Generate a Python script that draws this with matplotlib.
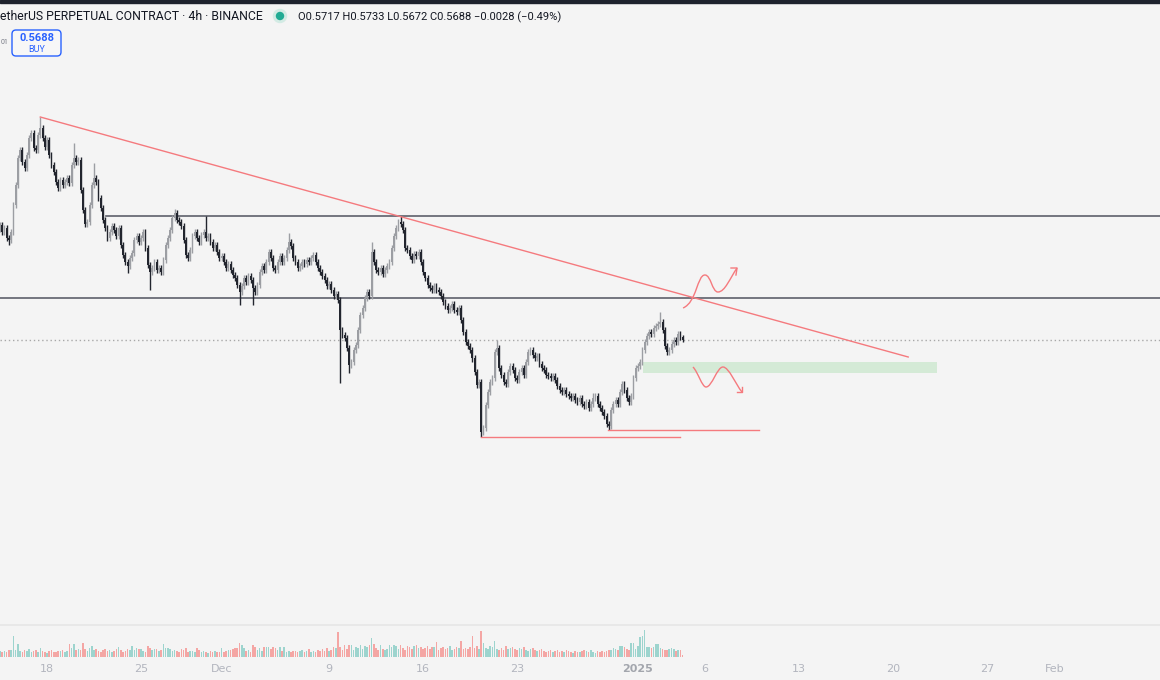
import matplotlib
matplotlib.use('Agg')
import matplotlib.pyplot as plt
import matplotlib.dates as mdates
from matplotlib.path import Path
from matplotlib.patches import PathPatch, FancyBboxPatch, Circle, Rectangle
from matplotlib.lines import Line2D
from datetime import datetime, timedelta

# ---- data: 4h candles, Nov 14 12:00 -> Jan 4 08:00 ----
start = datetime(2024, 11, 14, 12)
first_open = 0.680
closes = [
    0.684, 0.677, 0.681, 0.671, 0.669, 0.677, 0.704, 0.724, 0.751, 0.759,
    0.747, 0.741, 0.754, 0.771, 0.776, 0.761, 0.759, 0.774, 0.781, 0.771,
    0.762, 0.769, 0.754, 0.744, 0.737, 0.727, 0.721, 0.729, 0.724, 0.727,
    0.731, 0.726, 0.744, 0.751, 0.747, 0.749, 0.719, 0.699, 0.685, 0.687,
    0.704, 0.724, 0.731, 0.727, 0.711, 0.701, 0.689, 0.681, 0.671, 0.677,
    0.683, 0.679, 0.673, 0.681, 0.664, 0.654, 0.647, 0.643, 0.651, 0.656,
    0.669, 0.673, 0.667, 0.671, 0.677, 0.661, 0.644, 0.637, 0.641, 0.647,
    0.639, 0.641, 0.637, 0.649, 0.664, 0.671, 0.679, 0.691, 0.696, 0.689,
    0.687, 0.683, 0.669, 0.654, 0.651, 0.659, 0.673, 0.677, 0.671, 0.667,
    0.674, 0.677, 0.671, 0.673, 0.667, 0.661, 0.664, 0.657, 0.651, 0.653,
    0.647, 0.641, 0.645, 0.639, 0.634, 0.631, 0.624, 0.617, 0.623, 0.631,
    0.627, 0.633, 0.629, 0.621, 0.617, 0.624, 0.637, 0.643, 0.639, 0.647,
    0.657, 0.651, 0.641, 0.639, 0.647, 0.653, 0.647, 0.651, 0.659, 0.667,
    0.663, 0.651, 0.647, 0.641, 0.643, 0.647, 0.645, 0.649, 0.647, 0.651,
    0.654, 0.647, 0.641, 0.637, 0.633, 0.629, 0.623, 0.625, 0.619, 0.613,
    0.615, 0.609, 0.579, 0.574, 0.571, 0.561, 0.544, 0.547, 0.559, 0.564,
    0.579, 0.594, 0.601, 0.611, 0.617, 0.613, 0.657, 0.647, 0.639, 0.637,
    0.641, 0.635, 0.639, 0.643, 0.647, 0.661, 0.673, 0.681, 0.687, 0.685,
    0.679, 0.661, 0.659, 0.653, 0.649, 0.655, 0.653, 0.657, 0.647, 0.637,
    0.631, 0.624, 0.621, 0.619, 0.623, 0.619, 0.617, 0.613, 0.607, 0.603,
    0.599, 0.601, 0.605, 0.599, 0.597, 0.601, 0.589, 0.577, 0.567, 0.563,
    0.559, 0.551, 0.537, 0.524, 0.527, 0.477, 0.481, 0.504, 0.517, 0.527,
    0.531, 0.557, 0.561, 0.541, 0.534, 0.527, 0.525, 0.537, 0.543, 0.539,
    0.531, 0.529, 0.537, 0.541, 0.534, 0.547, 0.557, 0.559, 0.554, 0.551,
    0.553, 0.545, 0.541, 0.539, 0.534, 0.533, 0.531, 0.533, 0.529, 0.523,
    0.519, 0.517, 0.519, 0.515, 0.513, 0.511, 0.513, 0.509, 0.507, 0.511,
    0.505, 0.503, 0.507, 0.501, 0.505, 0.511, 0.513, 0.505, 0.501, 0.497,
    0.493, 0.485, 0.483, 0.499, 0.505, 0.509, 0.505, 0.517, 0.525, 0.519,
    0.511, 0.507, 0.513, 0.531, 0.541, 0.543, 0.547, 0.559, 0.567, 0.573,
    0.577, 0.575, 0.581, 0.583, 0.585, 0.587, 0.579, 0.563, 0.557, 0.559,
    0.565, 0.569, 0.567, 0.575, 0.5717, 0.5688,
]
# long wicks that stand out (candle index -> price)
wick_highs = {18: 0.792, 33: 0.766, 42: 0.746, 78: 0.700, 92: 0.693, 129: 0.676,
              166: 0.667, 179: 0.6928, 190: 0.633, 222: 0.569, 265: 0.516,
              295: 0.597, 305: 0.5733}
wick_lows = {4: 0.664, 57: 0.636, 67: 0.619, 107: 0.604, 113: 0.604, 152: 0.526,
             156: 0.536, 211: 0.547, 215: 0.4718, 272: 0.4788, 305: 0.5672}
volumes = [
    6, 5, 6, 5, 7, 7, 21, 7, 13, 6,
    5, 7, 6, 8, 5, 6, 7, 5, 9, 6,
    5, 4, 6, 7, 5, 5, 6, 6, 7, 5,
    6, 13, 9, 13, 7, 8, 7, 14, 8, 6,
    9, 11, 7, 8, 6, 5, 7, 8, 6, 7,
    5, 6, 8, 10, 7, 5, 6, 8, 7, 11,
    7, 9, 8, 8, 6, 5, 11, 9, 7, 8,
    8, 6, 7, 13, 9, 9, 8, 6, 7, 6,
    5, 8, 7, 9, 5, 6, 6, 5, 9, 7,
    5, 6, 5, 4, 6, 5, 6, 5, 5, 9,
    5, 6, 7, 7, 8, 9, 9, 14, 12, 9,
    6, 7, 5, 12, 10, 7, 9, 6, 10, 10,
    10, 8, 10, 9, 7, 10, 6, 10, 5, 6,
    5, 6, 6, 5, 6, 7, 5, 6, 8, 5,
    6, 5, 7, 6, 8, 6, 9, 6, 7, 10,
    9, 25, 10, 7, 12, 8, 12, 12, 7, 10,
    9, 12, 8, 11, 10, 12, 19, 13, 9, 7,
    12, 8, 7, 8, 12, 10, 12, 11, 8, 12,
    9, 7, 11, 10, 8, 11, 12, 9, 10, 8,
    9, 11, 8, 10, 10, 15, 7, 9, 10, 8,
    9, 11, 7, 8, 10, 9, 16, 8, 9, 8,
    10, 21, 9, 11, 8, 26, 14, 9, 8, 11,
    10, 16, 8, 7, 9, 7, 11, 8, 9, 10,
    8, 7, 9, 8, 10, 7, 6, 8, 9, 7,
    6, 7, 8, 6, 5, 6, 7, 5, 6, 7,
    5, 6, 5, 7, 6, 5, 4, 6, 5, 5,
    6, 7, 6, 5, 7, 5, 4, 6, 5, 6,
    5, 6, 7, 7, 9, 8, 7, 11, 11, 10,
    8, 7, 14, 14, 8, 11, 20, 21, 27, 10,
    10, 9, 10, 13, 13, 9, 8, 7, 7, 8,
    9, 8, 6, 7, 7, 2,
]

# ---- drawings on the chart ----
trend_dates = [datetime(2024, 11, 17, 12), datetime(2025, 1, 21, 3)]
trend_prices = [0.7918, 0.5518]
level_prices = [0.6928, 0.6108]
level_starts = [datetime(2024, 11, 22, 9), datetime(2024, 11, 14, 0)]
low_lines = [(datetime(2024, 12, 20, 8), datetime(2025, 1, 4, 3), 0.4718),
             (datetime(2024, 12, 29, 18), datetime(2025, 1, 10, 0), 0.4788)]
zone = (datetime(2025, 1, 1, 9), datetime(2025, 1, 23, 6), 0.5358, 0.5468)
last_price = 0.5688
# squiggle arrows: (days after start, price) bezier points
up_curve = [(50.86, 0.6008), (51.90, 0.6068), (51.90, 0.6338), (52.49, 0.6338),
            (52.94, 0.6338), (53.02, 0.6168), (53.46, 0.6168),
            (53.98, 0.6168), (54.36, 0.6308), (54.88, 0.6408)]
up_head = [(54.43, 0.6408), (54.88, 0.6408), (54.80, 0.6338)]
dn_curve = [(51.60, 0.5418), (51.97, 0.5368), (52.27, 0.5218), (52.57, 0.5218),
            (53.02, 0.5218), (53.39, 0.5418), (53.83, 0.5418),
            (54.28, 0.5418), (54.80, 0.5238), (55.25, 0.5168)]
dn_head = [(54.88, 0.5168), (55.25, 0.5168), (55.25, 0.5218)]

tick_dates = [datetime(2024, 11, 18), datetime(2024, 11, 25), datetime(2024, 12, 1),
              datetime(2024, 12, 9), datetime(2024, 12, 16), datetime(2024, 12, 23),
              datetime(2025, 1, 1), datetime(2025, 1, 6), datetime(2025, 1, 13),
              datetime(2025, 1, 20), datetime(2025, 1, 27), datetime(2025, 2, 1)]
tick_labels = ['18', '25', 'Dec', '9', '16', '23', '2025', '6', '13', '20', '27', 'Feb']

BG = '#f4f4f4'
UP = '#9c9ea3'
DN = '#22252e'
RED = '#f47a7e'

fig = plt.figure(figsize=(11.6, 6.8), dpi=100, facecolor=BG)
ax = fig.add_axes([0, 23 / 680, 1, 657 / 680])
ax.set_facecolor(BG)

t0 = mdates.date2num(start)
step = 4 / 24
xs = [t0 + i * step for i in range(len(closes))]
opens = [first_open] + closes[:-1]

# volume overlay
axv = ax.twinx()
axv.set_ylim(0, 657)
vcol = ['#9dd4ce' if c >= o else '#f4a6a4' for o, c in zip(opens, closes)]
axv.bar(xs, volumes, width=step * 0.7, color=vcol, zorder=1, linewidth=0)
axv.axis('off')

for i, (x, o, c) in enumerate(zip(xs, opens, closes)):
    col = UP if c >= o else DN
    hi = wick_highs.get(i, max(o, c) + 0.003)
    lo = wick_lows.get(i, min(o, c) - 0.003)
    ax.vlines(x, lo, hi, color=col, lw=1.0, zorder=3)
    ax.bar(x, max(abs(c - o), 0.0008), bottom=min(o, c), width=step * 0.8,
           color=col, zorder=3, linewidth=0)

# horizontal levels
right = t0 + 1160 / 13.43
for p, s in zip(level_prices, level_starts):
    ax.plot([mdates.date2num(s), right + 1], [p, p], color='#5d606b', lw=1.2, zorder=2)
ax.axhline(last_price, color='#a8a8a8', lw=1, ls=(0, (1, 2)), zorder=2)

# trend line and low lines
ax.plot(mdates.date2num(trend_dates), trend_prices, color=RED, lw=1, zorder=4)
for s, e, p in low_lines:
    ax.plot([mdates.date2num(s), mdates.date2num(e)], [p, p], color=RED, lw=1, zorder=4)

# demand zone
zs, ze, zlo, zhi = zone
ax.add_patch(Rectangle((mdates.date2num(zs), zlo), mdates.date2num(ze) - mdates.date2num(zs),
                       zhi - zlo, facecolor='#d4ead6', edgecolor='none', zorder=2))

# squiggles
codes = [Path.MOVETO] + [Path.CURVE4] * 9
for curve, head in [(up_curve, up_head), (dn_curve, dn_head)]:
    verts = [(t0 + d, p) for d, p in curve]
    ax.add_patch(PathPatch(Path(verts, codes), facecolor='none', edgecolor=RED, lw=1, zorder=5))
    ax.plot([t0 + d for d, p in head], [p for d, p in head], color=RED, lw=1, zorder=5)

ax.set_xlim(t0, right)
ax.set_ylim(0.9088 - 0.657, 0.9088)
for s in ax.spines.values():
    s.set_visible(False)
ax.set_yticks([])
ax.set_xticks(mdates.date2num(tick_dates))
ax.set_xticklabels(tick_labels)
ax.tick_params(axis='x', length=0, pad=5, labelsize=8, labelcolor='#b2b5be')
for lab in ax.get_xticklabels():
    if lab.get_text() == '2025':
        lab.set_fontweight('bold')
        lab.set_color('#a3a6ad')

# separator above the time axis
fig.add_artist(Line2D([0, 1], [1 - 625 / 680] * 2, color='#e6e6e6', lw=1.2,
                      transform=fig.transFigure))
# top bar and legend
fig.add_artist(Rectangle((0, 1 - 3 / 680), 1, 3 / 680, color='#1e222d', transform=fig.transFigure))
fig.text(0, 1 - 17 / 680, 'etherUS PERPETUAL CONTRACT · 4h · BINANCE', fontsize=8.8,
         color='#131722', va='center', family='Roboto')
fig.add_artist(Circle((280, 680 - 16), 6.5, color='#d3ebe4', transform=None))
fig.add_artist(Circle((280, 680 - 16), 3.5, color='#22ab94', transform=None))
fig.text(298 / 1160, 1 - 17 / 680, 'O0.5717 H0.5733 L0.5672 C0.5688 −0.0028 (−0.49%)',
         fontsize=8, color='#131722', va='center', family='Roboto')
fig.add_artist(FancyBboxPatch((12, 680 - 56), 49, 26, boxstyle='round,pad=0,rounding_size=4',
                              facecolor='#f7f7f7', edgecolor='#2962ff', lw=1, transform=None))
fig.text(36.5 / 1160, 1 - 38 / 680, '0.5688', fontsize=8, color='#2962ff', ha='center',
         va='center', fontweight='bold', family='Roboto')
fig.text(36.5 / 1160, 1 - 49 / 680, 'BUY', fontsize=6.5, color='#2962ff', ha='center',
         va='center', family='Roboto')
fig.text(0.5 / 1160, 1 - 42 / 680, '01', fontsize=5, color='#787b86', va='center', family='Roboto')

fig.savefig('out.png', dpi=100, facecolor=BG)
